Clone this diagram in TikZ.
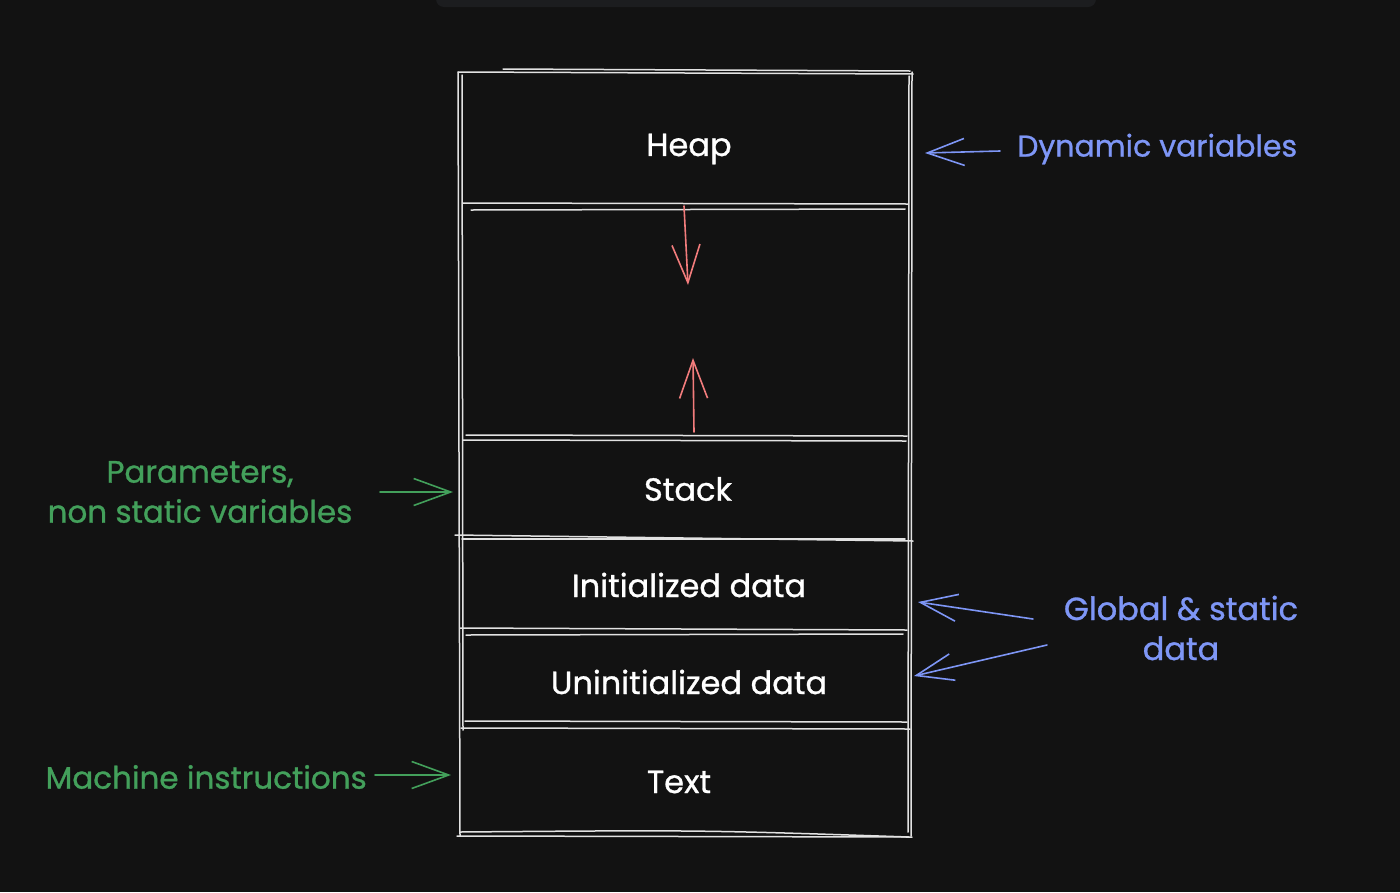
\documentclass[tikz,border=0pt]{standalone}
\usepackage{fontspec}
\setmainfont{Poppins}[FakeBold=0.9]
\usetikzlibrary{arrows.meta}
\definecolor{bg}{HTML}{121212}
\definecolor{stripc}{HTML}{1C1D1F}
\definecolor{ink}{HTML}{E2E2E2}
\definecolor{blu}{HTML}{7E96F6}
\definecolor{grn}{HTML}{43A05B}
\definecolor{arw}{HTML}{F27C7C}
\tikzset{
  sk/.style={draw=ink, line width=1.5pt, line cap=round},
  lbl/.style={text=white, font=\fontsize{32}{38}\selectfont, inner sep=0pt},
  blbl/.style={text=blu, font=\fontsize{30}{38}\selectfont, inner sep=0pt, align=center},
  glbl/.style={text=grn, font=\fontsize{31}{40}\selectfont, inner sep=0pt, align=center},
  barb/.style={line width=1.6pt, line cap=round, line join=round, -{Straight Barb[length=37pt,width=27pt]}},
  redbarb/.style={draw=arw, line width=1.6pt, line cap=round, line join=round, -{Straight Barb[length=38pt,width=28pt]}}
}
\begin{document}
\begin{tikzpicture}[x=1pt,y=-1pt]
\useasboundingbox (0,0) rectangle (1400,892);
\fill[bg] (0,0) rectangle (1400,892);
\fill[stripc, rounded corners=8pt] (436,-12) rectangle (1096,7);

% outer sides
\draw[sk] (458,72) -- (460,836);
\draw[sk] (462,75) -- (463,730);
\draw[sk] (912,72) -- (911,836);
\draw[sk] (909,76) -- (908,832);
% top
\draw[sk] (458,72) -- (913,74);
\draw[sk] (503,69) -- (910,71);
% heap bottom
\draw[sk] (463,203) -- (908,204);
\draw[sk] (471,210) -- (905,209);
% stack top
\draw[sk] (466,435) -- (907,436);
\draw[sk] (463,440) -- (906,441);
% stack bottom
\draw[sk] (455,535) -- (913,541);
\draw[sk] (462,539) -- (905,539);
% init bottom
\draw[sk] (460,628) -- (907,630);
\draw[sk] (466,635) -- (903,634);
% uninit bottom
\draw[sk] (465,721) -- (907,722);
\draw[sk] (461,728) -- (910,729);
% bottom
\draw[sk] (457,836) -- (912,837);
\draw[sk] (460,832) .. controls (700,830) .. (909,837);

% segment labels
\node[lbl] (heap) at (689,149) {Heap};
\node[lbl] (stack) at (688,489) {Stack};
\node[lbl] (init) at (689,585) {Initialized data};
\node[lbl] (uninit) at (689,682) {Uninitialized data};
\node[lbl] (text) at (679,782) {Text};

% red growth arrows
\coordinate (hs) at (684,206);
\coordinate (he) at (688,285);
\coordinate (ss) at (694,432);
\coordinate (se) at (693,358);
\draw[redbarb] (hs) -- (he);
\draw[redbarb] (ss) -- (se);

% annotations
\node[blbl, anchor=west] (dyn) at (1017,149) {Dynamic variables};
\coordinate (dynS) at (1000,151);
\coordinate (dynT) at (925,153);
\draw[barb, draw=blu] (dynS) -- (dynT);

\node[blbl, font=\fontsize{32}{40}\selectfont] (glob) at (1181,628) {Global \& static\\data};
\coordinate (g1S) at (1033,619);
\coordinate (g1T) at (918,602);
\coordinate (g2S) at (1047,645);
\coordinate (g2T) at (914,676);
\draw[barb, draw=blu] (g1S) -- (g1T);
\draw[barb, draw=blu] (g2S) -- (g2T);

\node[glbl] (par) at (200,492) {Parameters,\\non static variables};
\coordinate (pS) at (380,492);
\coordinate (pT) at (453,492);
\draw[barb, draw=grn] (pS) -- (pT);

\node[glbl, anchor=east] (mach) at (367,777) {Machine instructions};
\coordinate (mS) at (375,775);
\coordinate (mT) at (451,775);
\draw[barb, draw=grn] (mS) -- (mT);
\end{tikzpicture}
\end{document}
